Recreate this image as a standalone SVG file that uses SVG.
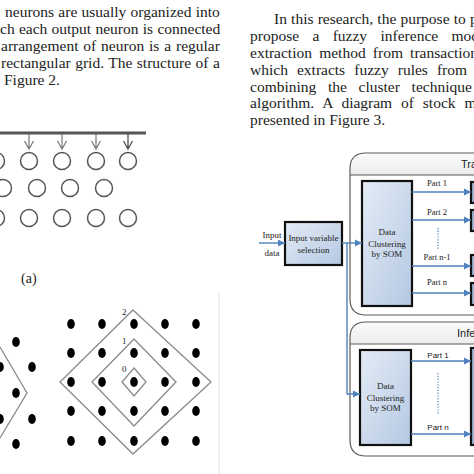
<svg xmlns="http://www.w3.org/2000/svg" width="474" height="474" viewBox="0 0 474 474">
<defs>
<style>
.body{font-family:"Liberation Serif","Times New Roman",serif;font-size:15.5px;fill:#222}
.ser{font-family:"Liberation Serif","Times New Roman",serif;fill:#222}
.sans{font-family:"Liberation Sans",Arial,sans-serif;fill:#222}
.neu{fill:none;stroke:#555;stroke-width:1.5}
.dot{fill:#000}
.dia{fill:none;stroke:#8a8a8a;stroke-width:1.3}
.arr{fill:none;stroke:#777;stroke-width:1.2}
.flow{fill:none;stroke:#4f81bd;stroke-width:1.4}
.blk{stroke:#111;stroke-width:2.2;fill:url(#bg)}
.dark{stroke:#111;stroke-width:2.2;fill:#9db3d1}
.panel{fill:#fff;stroke:#5a5a5a;stroke-width:1.2}
.dotted{stroke:#4f81bd;stroke-width:1.2;stroke-dasharray:1.2 1.6}
</style>
<linearGradient id="bg" x1="0" y1="0" x2="1" y2="1">
<stop offset="0" stop-color="#e4ecf6"/>
<stop offset="1" stop-color="#b4c8e2"/>
</linearGradient>
<linearGradient id="hd" x1="0" y1="0" x2="0" y2="1">
<stop offset="0" stop-color="#fafafa"/>
<stop offset="1" stop-color="#ececec"/>
</linearGradient>
<marker id="ah" markerUnits="userSpaceOnUse" markerWidth="8" markerHeight="8" refX="7" refY="4" orient="auto">
<path d="M0,0.5 L7,4 L0,7.5 z" fill="#4f81bd"/>
</marker>
</defs>
<rect width="474" height="474" fill="#fff"/>

<g id="text-left">
<text class="body" x="5" y="17" word-spacing="0.4">neurons are usually organized into</text>
<text class="body" x="0" y="34" word-spacing="0.4">ch each output neuron is connected</text>
<text class="body" x="1" y="51" word-spacing="1">arrangement of neuron is a regular</text>
<text class="body" x="1" y="68" word-spacing="0.6">rectangular grid. The structure of a</text>
<text class="body" x="4" y="85">Figure 2.</text>
</g>

<g id="text-right">
<text class="body" x="274" y="24" word-spacing="0.3">In this research, the purpose to p</text>
<text class="body" x="250" y="41" word-spacing="9.5">propose a fuzzy inference mod</text>
<text class="body" x="250" y="58" word-spacing="3.3">extraction method from transaction</text>
<text class="body" x="250" y="75" word-spacing="5.2">which extracts fuzzy rules from</text>
<text class="body" x="250" y="92" word-spacing="7.8">combining the cluster technique</text>
<text class="body" x="250" y="108" word-spacing="5">algorithm. A diagram of stock m</text>
<text class="body" x="250" y="125">presented in Figure 3.</text>
</g>

<g id="fig-a">
<line x1="0" y1="133" x2="146" y2="133" stroke="#555" stroke-width="3"/>
<g class="arr">
<path d="M29,134 V148 M24.5,141 L29,149 L33.5,141"/>
<path d="M62,134 V148 M57.5,141 L62,149 L66.5,141"/>
<path d="M96,134 V148 M91.5,141 L96,149 L100.5,141"/>
<path d="M128,134 V148 M123.5,141 L128,149 L132.5,141" stroke="#444"/>
</g>
<g>
<circle class="neu" cx="-4" cy="161" r="8.5"/>
<circle class="neu" cx="29" cy="161" r="8.5"/>
<circle class="neu" cx="62" cy="161" r="8.5"/>
<circle class="neu" cx="96" cy="161" r="8.5"/>
<circle class="neu" cx="128" cy="161" r="8.5"/>
<circle class="neu" cx="3" cy="188" r="8.5"/>
<circle class="neu" cx="37" cy="188" r="8.5"/>
<circle class="neu" cx="70" cy="188" r="8.5"/>
<circle class="neu" cx="104" cy="188" r="8.5"/>
<circle class="neu" cx="-4" cy="218" r="8.5"/>
<circle class="neu" cx="29" cy="218" r="8.5"/>
<circle class="neu" cx="62" cy="218" r="8.5"/>
<circle class="neu" cx="96" cy="218" r="8.5"/>
<circle class="neu" cx="128" cy="218" r="8.5"/>
</g>
<text class="ser" x="21" y="283" font-size="14">(a)</text>
</g>

<g id="fig-b">
<line x1="219" y1="292" x2="219" y2="474" stroke="#e2e2e2" stroke-width="1"/>
<path class="dia" d="M0,347 L27,393 L0,438"/>
<g>
<ellipse class="dot" cx="16" cy="342" rx="3.8" ry="5"/>
<ellipse class="dot" cx="0" cy="367" rx="3.8" ry="5"/>
<ellipse class="dot" cx="32" cy="367" rx="3.8" ry="5"/>
<ellipse class="dot" cx="16" cy="393" rx="3.8" ry="5"/>
<ellipse class="dot" cx="0" cy="419" rx="3.8" ry="5"/>
<ellipse class="dot" cx="32" cy="419" rx="3.8" ry="5"/>
<ellipse class="dot" cx="16" cy="444" rx="3.8" ry="5"/>
</g>
<path class="dia" d="M133,310 L211,382 L133,454 L60,382 Z"/>
<path class="dia" d="M134,339 L176,382 L134,426 L92,382 Z"/>
<path class="dia" d="M134,368 L146,382 L134,396 L122,382 Z"/>
<text class="ser" x="122" y="315" font-size="9">2</text>
<text class="ser" x="122" y="344" font-size="9">1</text>
<text class="ser" x="122" y="372" font-size="9">0</text>
<g>
<ellipse class="dot" cx="71" cy="324" rx="3.8" ry="5"/><ellipse class="dot" cx="102" cy="324" rx="3.8" ry="5"/><ellipse class="dot" cx="134" cy="324" rx="3.8" ry="5"/><ellipse class="dot" cx="165" cy="324" rx="3.8" ry="5"/><ellipse class="dot" cx="196" cy="324" rx="3.8" ry="5"/>
<ellipse class="dot" cx="71" cy="353" rx="3.8" ry="5"/><ellipse class="dot" cx="102" cy="353" rx="3.8" ry="5"/><ellipse class="dot" cx="134" cy="353" rx="3.8" ry="5"/><ellipse class="dot" cx="165" cy="353" rx="3.8" ry="5"/><ellipse class="dot" cx="196" cy="353" rx="3.8" ry="5"/>
<ellipse class="dot" cx="71" cy="382" rx="3.8" ry="5"/><ellipse class="dot" cx="102" cy="382" rx="3.8" ry="5"/><ellipse class="dot" cx="134" cy="382" rx="3.8" ry="5"/><ellipse class="dot" cx="165" cy="382" rx="3.8" ry="5"/><ellipse class="dot" cx="196" cy="382" rx="3.8" ry="5"/>
<ellipse class="dot" cx="71" cy="411" rx="3.8" ry="5"/><ellipse class="dot" cx="102" cy="411" rx="3.8" ry="5"/><ellipse class="dot" cx="134" cy="411" rx="3.8" ry="5"/><ellipse class="dot" cx="165" cy="411" rx="3.8" ry="5"/><ellipse class="dot" cx="196" cy="411" rx="3.8" ry="5"/>
<ellipse class="dot" cx="71" cy="441" rx="3.8" ry="5"/><ellipse class="dot" cx="102" cy="441" rx="3.8" ry="5"/><ellipse class="dot" cx="134" cy="441" rx="3.8" ry="5"/><ellipse class="dot" cx="165" cy="441" rx="3.8" ry="5"/><ellipse class="dot" cx="196" cy="441" rx="3.8" ry="5"/>
</g>
</g>

<g id="training-panel">
<path class="panel" d="M490,153 H366 Q350,153 350,169 V299 Q350,315 366,315 H490"/>
<path d="M351,175 V169 Q351,154 366,154 H474 V175 Z" fill="url(#hd)"/>
<line x1="350" y1="175" x2="474" y2="175" stroke="#5a5a5a" stroke-width="1.2"/>
<text class="sans" x="461" y="168" font-size="11">Training</text>
</g>

<g id="inference-panel">
<path class="panel" d="M490,322 H366 Q350,322 350,338 V440 Q350,456 366,456 H490"/>
<path d="M351,344 V338 Q351,323 366,323 H474 V344 Z" fill="url(#hd)"/>
<line x1="350" y1="344" x2="474" y2="344" stroke="#5a5a5a" stroke-width="1.2"/>
<text class="sans" x="457" y="337" font-size="11">Inference</text>
</g>

<g id="input-label">
<text class="ser" x="272" y="238" font-size="9" text-anchor="middle">Input</text>
<text class="ser" x="272" y="256" font-size="9" text-anchor="middle">data</text>
</g>

<g id="input-selection">
<rect class="blk" x="285" y="222" width="57" height="43"/>
<text class="ser" x="313.5" y="241" font-size="9" text-anchor="middle">Input variable</text>
<text class="ser" x="313.5" y="253" font-size="9" text-anchor="middle">selection</text>
</g>

<g id="som-train">
<rect class="blk" x="362" y="181" width="50" height="125"/>
<text class="ser" x="387" y="235" font-size="9" text-anchor="middle">Data</text>
<text class="ser" x="387" y="247" font-size="9" text-anchor="middle">Clustering</text>
<text class="ser" x="387" y="257" font-size="9" text-anchor="middle">by SOM</text>
</g>

<g id="som-infer">
<rect class="blk" x="360" y="350" width="51" height="95"/>
<text class="ser" x="385.5" y="389" font-size="9" text-anchor="middle">Data</text>
<text class="ser" x="385.5" y="401" font-size="9" text-anchor="middle">Clustering</text>
<text class="ser" x="385.5" y="411" font-size="9" text-anchor="middle">by SOM</text>
</g>

<g id="train-models">
<rect class="dark" x="471" y="182" width="12" height="21"/>
<rect class="dark" x="471" y="210" width="12" height="21"/>
<rect class="dark" x="471" y="255" width="12" height="21"/>
<rect class="dark" x="471" y="283" width="12" height="22"/>
</g>

<g id="infer-model">
<rect class="dark" x="471" y="348" width="12" height="97"/>
</g>

<g id="connectors">
<line class="flow" x1="259" y1="243" x2="285" y2="243" marker-end="url(#ah)"/>
<line class="flow" x1="342" y1="243" x2="362" y2="243" marker-end="url(#ah)"/>
<polyline class="flow" points="347,243 347,394 360,394" marker-end="url(#ah)"/>
<line class="flow" x1="412" y1="192" x2="471" y2="192" marker-end="url(#ah)"/>
<line class="flow" x1="412" y1="220" x2="471" y2="220" marker-end="url(#ah)"/>
<line class="flow" x1="412" y1="266" x2="471" y2="266" marker-end="url(#ah)"/>
<line class="flow" x1="412" y1="293" x2="471" y2="293" marker-end="url(#ah)"/>
<line class="dotted" x1="438" y1="228" x2="438" y2="249"/>
<line class="flow" x1="411" y1="361" x2="471" y2="361" marker-end="url(#ah)"/>
<line class="flow" x1="411" y1="434" x2="471" y2="434" marker-end="url(#ah)"/>
<line class="dotted" x1="438" y1="373" x2="438" y2="414"/>
<text class="ser" x="437" y="186" font-size="8.5" text-anchor="middle">Part 1</text>
<text class="ser" x="437" y="215" font-size="8.5" text-anchor="middle">Part 2</text>
<text class="ser" x="437" y="260" font-size="8.5" text-anchor="middle">Part n-1</text>
<text class="ser" x="437" y="285" font-size="8.5" text-anchor="middle">Part n</text>
<text class="sans" x="438" y="358" font-size="8" text-anchor="middle">Part 1</text>
<text class="sans" x="438" y="430" font-size="8" text-anchor="middle">Part n</text>
</g>
</svg>
